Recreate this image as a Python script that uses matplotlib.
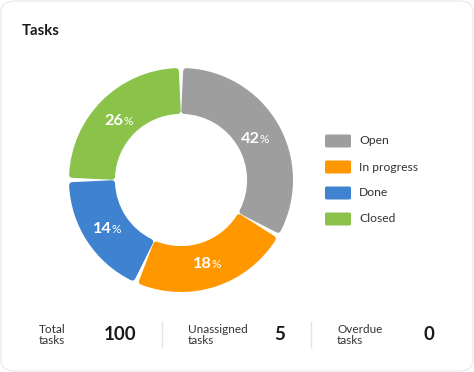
import matplotlib.pyplot as plt
from matplotlib.patches import FancyBboxPatch
import numpy as np

plt.rcParams['font.family'] = ['Lato', 'DejaVu Sans']

# slice shares as drawn, and the percentages printed on them
categories = ['Open', 'In progress', 'Done', 'Closed']
sizes = [33.3, 23.3, 18.4, 25.0]
pct_labels = ['42', '18', '14', '26']
colors = ['#9e9e9e', '#ff9800', '#3f82cf', '#8bc34a']

stat_labels = ['Total\ntasks', 'Unassigned\ntasks', 'Overdue\ntasks']
stat_values = ['100', '5', '0']

W, H = 474, 372
fig = plt.figure(figsize=(W / 100, H / 100), dpi=100)
fig.patch.set_facecolor('white')

# card outline
card = FancyBboxPatch((1 / W, 1 / H), 1 - 2 / W, 1 - 2 / H,
                      boxstyle='round,pad=0,rounding_size=0.03',
                      transform=fig.transFigure, facecolor='none',
                      edgecolor='#ececec', linewidth=1, zorder=-1)
fig.patches.append(card)

fig.text(22 / W, 1 - 31 / H, 'Tasks', fontsize=10.8, fontweight='bold',
         color='#1a1a1a', va='center', ha='left')

# donut
cx, cy, R = 181, 180, 112
ax = fig.add_axes([(cx - R) / W, 1 - (cy + R) / H, 2 * R / W, 2 * R / H])
wedges, _ = ax.pie(sizes, colors=colors, startangle=90, counterclock=False,
                   radius=1, wedgeprops=dict(width=0.41))
ax.set_xlim(-1, 1)
ax.set_ylim(-1, 1)
ax.set_aspect('equal')
ax.axis('off')

px = 1 / R
rnd = 3 * px
inner = 1 - 0.41
for w, c in zip(wedges, colors):
    # shrink each slice and stroke it in its own colour for rounded corners
    mid_r = (1 + inner) / 2
    dth = np.degrees((rnd + 1.2 * px) / mid_r)
    w.set_radius(1 - rnd)
    w.set_width(1 - inner - 2 * rnd)
    w.set_theta1(w.theta1 + dth)
    w.set_theta2(w.theta2 - dth)
    w.set_edgecolor(c)
    w.set_linewidth(6 * 0.72)
    w.set_joinstyle('round')

# percentage labels at mid-angle of each slice
start = 90
total = sum(sizes)
for s, lab in zip(sizes, pct_labels):
    ang = np.radians(start - s / total * 180)
    start -= s / total * 360
    r = 0.775
    x, y = r * np.cos(ang), r * np.sin(ang)
    xj, yb = x + 3.5 * px, y - 6 * px
    ax.text(xj, yb, lab, color='white', fontsize=11.8, fontweight='bold',
            ha='right', va='baseline')
    ax.text(xj, yb, '%', color='white', fontsize=8.6,
            ha='left', va='baseline')

# legend
for i, (name, c) in enumerate(zip(categories, colors)):
    yc = 141 + 26 * i
    box = FancyBboxPatch((325 / W, 1 - (yc + 6.5) / H), 26 / W, 13 / H,
                         boxstyle='round,pad=0,rounding_size=0.004',
                         transform=fig.transFigure, facecolor=c, edgecolor='none')
    fig.patches.append(box)
    fig.text(359 / W, 1 - yc / H, name, fontsize=8.7, color='#333333',
             va='center', ha='left')

# summary row
for i, (lab, val) in enumerate(zip(stat_labels, stat_values)):
    x0 = 39 + 149 * i
    fig.text(x0 / W, 1 - 335 / H, lab, fontsize=8.5, color='#333333',
             va='center', ha='left', linespacing=1.1)
    fig.text((x0 + 97) / W, 1 - 335 / H, val, fontsize=13.5, color='#1a1a1a',
             fontweight='bold', va='center', ha='right')
    if i > 0:
        fig.add_artist(plt.Line2D([(x0 - 26) / W] * 2, [1 - 322 / H, 1 - 347 / H],
                                  transform=fig.transFigure, color='#e3e3e3', lw=1))

fig.savefig('out.png', dpi=100, facecolor='white')
